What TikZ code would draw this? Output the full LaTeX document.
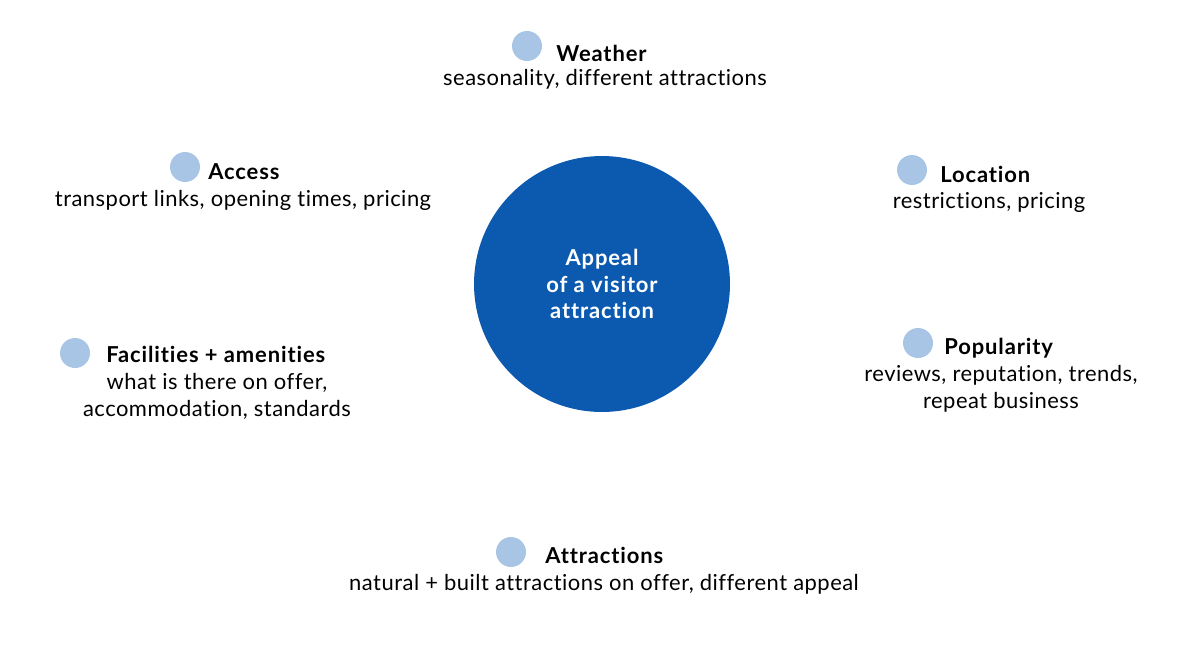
\documentclass[tikz,border=0pt]{standalone}
\usepackage{fontspec}
\setmainfont{Lato}[Ligatures=NoCommon, LetterSpace=2.2,
  BoldFeatures={LetterSpace=4}]
\usetikzlibrary{positioning}
\definecolor{appealblue}{HTML}{0C5AB0}
\definecolor{dotblue}{HTML}{A8C5E6}

\begin{document}
\begin{tikzpicture}[x=0.02cm, y=-0.02cm,
    every node/.style={font=\fontsize{12.5}{15.3}\selectfont, inner sep=0pt},
    dot/.style={circle, fill=dotblue, minimum size=0.6cm},
    ttl/.style={anchor=base west, font=\fontsize{12.5}{15.3}\selectfont\bfseries},
    desc/.style={anchor=base, align=center}]
  \useasboundingbox (0,0) rectangle (1200,646);
  % centre
  \node[circle, fill=appealblue, minimum size=5.12cm, text=white, align=center,
        font=\fontsize{12.5}{15.3}\selectfont\bfseries] (appeal) at (602,284)
    {Appeal\\of a visitor\\attraction};
  % factors
  \node[dot] (wdot) at (527,46) {};
  \node[ttl] (wttl) at (556,61) {Weather};
  \node[desc] (wdesc) at (605,85) {seasonality, different attractions};

  \node[dot] (adot) at (185,167) {};
  \node[ttl] (attl) at (208,179) {Access};
  \node[desc] (adesc) at (243,206) {transport links, opening times, pricing};

  \node[dot] (ldot) at (912,170) {};
  \node[ttl] (lttl) at (940,182) {Location};
  \node[desc] (ldesc) at (989,208) {restrictions, pricing};

  \node[dot] (fdot) at (75,353) {};
  \node[ttl] (fttl) at (106,362) {Facilities + amenities};
  \node[desc, anchor=north] (fdesc) at (217,373)
    {what is there on offer,\\accommodation, standards};

  \node[dot] (pdot) at (918,343) {};
  \node[ttl] (pttl) at (944,354) {Popularity};
  \node[desc, anchor=north] (pdesc) at (1001,365)
    {reviews, reputation, trends,\\repeat business};

  \node[dot] (tdot) at (511,552) {};
  \node[ttl] (tttl) at (545,563) {Attractions};
  \node[desc] (tdesc) at (604,590) {natural + built attractions on offer, different appeal};
\end{tikzpicture}
\end{document}
